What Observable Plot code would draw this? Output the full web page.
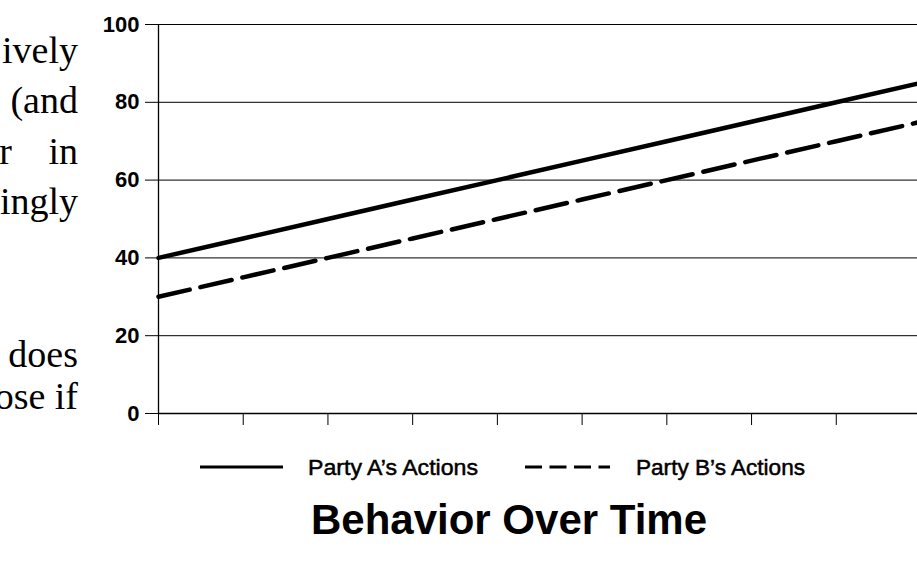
<!DOCTYPE html>
<html>
<head>
<meta charset="utf-8">
<script src="https://cdn.jsdelivr.net/npm/d3@7"></script>
<script src="https://cdn.jsdelivr.net/npm/@observablehq/plot@0.6"></script>
<style>
  html, body { margin: 0; padding: 0; background: #fff; overflow: hidden; }
  body { width: 917px; height: 578px; position: relative; }
  #chart { position: absolute; left: 0; top: 0; width: 917px; height: 440px; overflow: hidden; }
  #overlay { position: absolute; left: 0; top: 0; pointer-events: none; }
  #chart g[aria-label="y-axis tick label"] text { font-weight: bold; }
</style>
</head>
<body>
<div id="chart"></div>
<svg id="overlay" width="917" height="578"></svg>
<script>
// ---- data ----
const timeSteps = [1, 2, 3, 4, 5, 6, 7, 8, 9, 10];
const partyA = [40, 45, 50, 55, 60, 65, 70, 75, 80, 85];
const partyB = [30, 35, 40, 45, 50, 55, 60, 65, 70, 75];
const yTicks = [0, 20, 40, 60, 80, 100];
const seriesNames = ["Party A\u2019s Actions", "Party B\u2019s Actions"];
const chartTitle = "Behavior Over Time";
const sideText = ["ively", "(and", "r in", "ingly", "does", "ose if"];

const rowsA = timeSteps.map((t, i) => ({t, v: partyA[i], s: seriesNames[0]}));
const rowsB = timeSteps.map((t, i) => ({t, v: partyB[i], s: seriesNames[1]}));

const plot = Plot.plot({
  width: 917,
  height: 440,
  marginLeft: 158,
  marginRight: 0,
  marginTop: 24,
  marginBottom: 27,
  x: {type: "linear", domain: [1, 10], range: [158, 920.5]},
  y: {domain: [0, 100]},
  style: {
    fontFamily: "'Liberation Sans', Arial, sans-serif",
    fontSize: "22px",
    color: "black",
    background: "white",
    overflow: "hidden"
  },
  marks: [
    Plot.ruleY(yTicks.filter(d => d > 0), {stroke: "black", strokeWidth: 1}),
    Plot.axisY({ticks: yTicks, tickSize: 13, tickPadding: 6, fontWeight: "bold", label: null, strokeOpacity: 1}),
    Plot.axisX({ticks: timeSteps, tickSize: 12, tickFormat: () => "", label: null, strokeOpacity: 1}),
    Plot.ruleY([0], {stroke: "black", strokeWidth: 1.3}),
    Plot.ruleX([1], {stroke: "black", strokeWidth: 1.3}),
    Plot.line(rowsA, {x: "t", y: "v", stroke: "black", strokeWidth: 4.5}),
    Plot.line(rowsB, {x: "t", y: "v", stroke: "black", strokeWidth: 4.5, strokeDasharray: "32,11"})
  ]
});
document.getElementById("chart").appendChild(plot);

// ---- overlay: side text, legend, title ----
const ov = d3.select("#overlay");
const sideBaselines = [63, 113, 164, 214, 367, 409];
sideText.forEach((t, i) => {
  const txt = ov.append("text")
    .attr("x", 78).attr("y", sideBaselines[i])
    .attr("text-anchor", "end")
    .attr("font-family", "'Liberation Serif', 'Times New Roman', serif")
    .attr("font-size", 38)
    .attr("fill", "black")
    .text(t);
  if (t === "r in") txt.attr("word-spacing", 27);
});

const legendFont = "'Liberation Sans', Arial, sans-serif";
ov.append("line").attr("x1", 200).attr("x2", 283).attr("y1", 467).attr("y2", 467)
  .attr("stroke", "black").attr("stroke-width", 3);
ov.append("text").attr("x", 308).attr("y", 475)
  .attr("font-family", legendFont).attr("font-size", 22).attr("fill", "black")
  .attr("stroke", "black").attr("stroke-width", 0.5)
  .attr("textLength", 170).attr("lengthAdjust", "spacingAndGlyphs")
  .text(seriesNames[0]);
ov.append("line").attr("x1", 525).attr("x2", 610).attr("y1", 467).attr("y2", 467)
  .attr("stroke", "black").attr("stroke-width", 3).attr("stroke-dasharray", "17,7.5");
ov.append("text").attr("x", 636).attr("y", 475)
  .attr("font-family", legendFont).attr("font-size", 22).attr("fill", "black")
  .attr("stroke", "black").attr("stroke-width", 0.5)
  .attr("textLength", 169).attr("lengthAdjust", "spacingAndGlyphs")
  .text(seriesNames[1]);
ov.append("text").attr("x", 509).attr("y", 534)
  .attr("text-anchor", "middle")
  .attr("font-family", legendFont).attr("font-size", 42).attr("font-weight", "bold").attr("fill", "black")
  .text(chartTitle);
</script>
</body>
</html>
